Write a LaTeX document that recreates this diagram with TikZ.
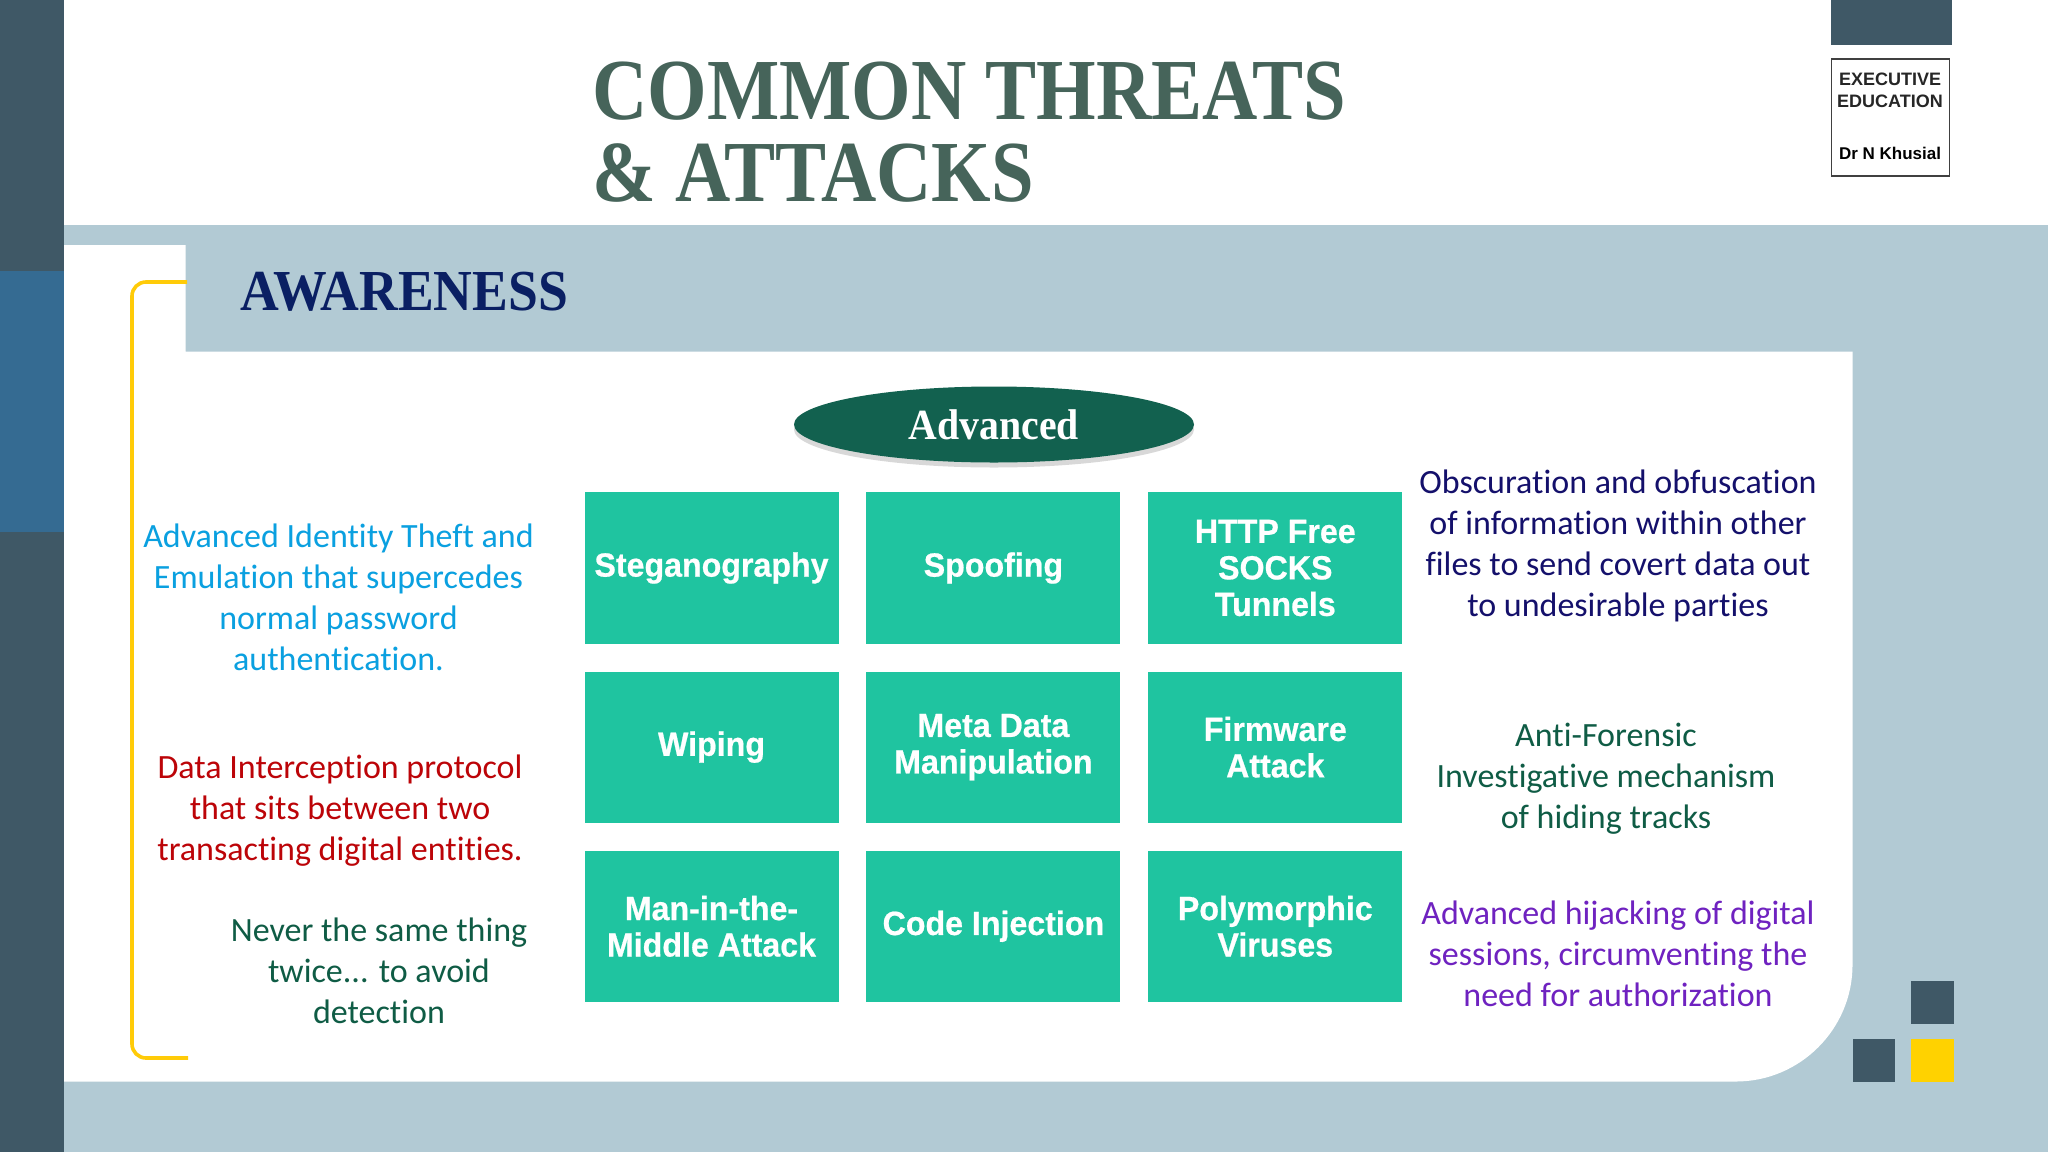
\documentclass[tikz,border=0pt]{standalone}
\usepackage{fontspec}
\usepackage{tikz}
\usetikzlibrary{positioning, shapes.geometric, shadows}

\setmainfont[Ligatures=NoCommon]{Carlito}
\newfontfamily\headfont[FakeStretch=0.88]{Liberation Serif}
\newfontfamily\subheadfont[FakeStretch=0.925]{Liberation Serif}
\newfontfamily\boxfont[BoldFeatures={FakeStretch=0.96,FakeBold=0.6}]{Liberation Sans}
\newfontfamily\badgefont{Liberation Sans}

\definecolor{slatebar}{HTML}{3F5866}
\definecolor{bluebar}{HTML}{356B92}
\definecolor{mistband}{HTML}{B2CAD4}
\definecolor{titlegreen}{HTML}{46645A}
\definecolor{navyhead}{HTML}{0A1F63}
\definecolor{tealbox}{HTML}{1FC4A0}
\definecolor{ovalgreen}{HTML}{12614F}
\definecolor{brackety}{HTML}{FFCB08}
\definecolor{squarey}{HTML}{FFD200}
\definecolor{noteblue}{HTML}{0AA0E0}
\definecolor{notered}{HTML}{BC0408}
\definecolor{notegreen}{HTML}{0F5C45}
\definecolor{notenavy}{HTML}{14106B}
\definecolor{notepurple}{HTML}{6F22C0}

\begin{document}
\begin{tikzpicture}[x=1pt, y=-1pt,
    threat/.style={rectangle, fill=tealbox, text=white, minimum width=254pt, minimum height=151.25pt,
        inner sep=0pt, align=center, font=\fontsize{33.5}{36.5}\selectfont\boxfont\bfseries},
    note/.style={inner sep=0pt, align=center, font=\fontsize{34}{41}\selectfont},
    heading/.style={inner sep=0pt, anchor=base west, text=titlegreen, font=\fontsize{87}{87}\selectfont\headfont\bfseries},
    badge/.style={inner sep=0pt, anchor=base, font=\fontsize{18}{18}\selectfont\badgefont\bfseries},
    node distance=27.5pt
]
\useasboundingbox (0,0) rectangle (2048,1152);

% Background bands
\fill[white] (0,0) rectangle (2048,1152);
\fill[mistband] (64,225) rectangle (2048,1152);
\fill[slatebar] (0,0) rectangle (64,271);
\fill[bluebar] (0,271) rectangle (64,532);
\fill[slatebar] (0,532) rectangle (64,1152);
\fill[slatebar] (1831,0) rectangle (1951.5,45);

% White panel with the round corner
\fill[white] (64,245) -- (185.5,245) -- (185.5,351.5) -- (1852.5,351.5) -- (1852.5,965)
    .. controls (1852.5,1029) and (1800,1081.5) .. (1736,1081.5) -- (64,1081.5) -- cycle;

% Bracket at the left
\draw[brackety, line width=3.6pt, rounded corners=14pt] (187,282) -| (132,1058) -- (188,1058);

% Titles
\node[heading] (titletop) at (592,119.5) {COMMON THREATS};
\node[heading] (titlelow) at (592,201) {\& ATTACKS};
\node[heading, text=navyhead, font=\fontsize{58}{58}\selectfont\subheadfont\bfseries] (awareness) at (240,310) {AWARENESS};

% Badge top right
\draw[black!75, line width=1.2pt] (1831.5,59) rectangle (1949.5,176);
\node[badge, text=black!85] (exec) at (1890,85) {EXECUTIVE};
\node[badge, text=black!85] (educ) at (1890,107) {EDUCATION};
\node[badge, font=\fontsize{17}{17}\selectfont\badgefont\bfseries] (doctor) at (1890,159) {Dr N Khusial};

% Oval heading
\node[ellipse, fill=ovalgreen, text=white, minimum width=400pt, minimum height=76pt, inner sep=0pt,
    drop shadow={shadow xshift=0pt, shadow yshift=-5pt, opacity=0.3},
    font=\fontsize{43}{43}\selectfont\subheadfont\bfseries] (advanced) at (994,424.5) {Advanced};

% Grid of threats
\node[threat] (stego) at (711.5,568) {Steganography};
\node[threat, right=of stego] (spoof) {Spoofing};
\node[threat, right=of spoof] (socks) {HTTP Free\\SOCKS\\Tunnels};
\node[threat, below=of stego] (wiping) {Wiping};
\node[threat, right=of wiping] (metadata) {Meta Data\\Manipulation};
\node[threat, right=of metadata] (firmware) {Firmware\\Attack};
\node[threat, below=of wiping] (mitm) {Man-in-the-\\Middle Attack};
\node[threat, right=of mitm] (injection) {Code Injection};
\node[threat, right=of injection] (polymorph) {Polymorphic\\Viruses};

% Notes left
\node[note, text=noteblue] (noteid) at (338.5,597) {Advanced Identity Theft and\\Emulation that supercedes\\normal password\\authentication.};
\node[note, text=notered] (notemitm) at (340,810.5) {Data Interception protocol\\that sits between two\\transacting digital entities.};
\node[note, text=notegreen] (notepoly) at (379,971) {Never the same thing\\twice... to avoid\\detection};

% Notes right
\node[note, text=notenavy] (notesteg) at (1618,545.5) {Obscuration and obfuscation\\of information within other\\files to send covert data out\\to undesirable parties};
\node[note, text=notegreen] (notewipe) at (1606,778.5) {Anti-Forensic\\Investigative mechanism\\of hiding tracks};
\node[note, text=notepurple] (notehijack) at (1618,953.5) {Advanced hijacking of digital\\sessions, circumventing the\\need for authorization};

% Small squares
\fill[slatebar] (1911,981) rectangle (1954,1024);
\fill[slatebar] (1853,1039) rectangle (1895,1081.5);
\fill[squarey] (1911,1039) rectangle (1954,1081.5);

\end{tikzpicture}
\end{document}
